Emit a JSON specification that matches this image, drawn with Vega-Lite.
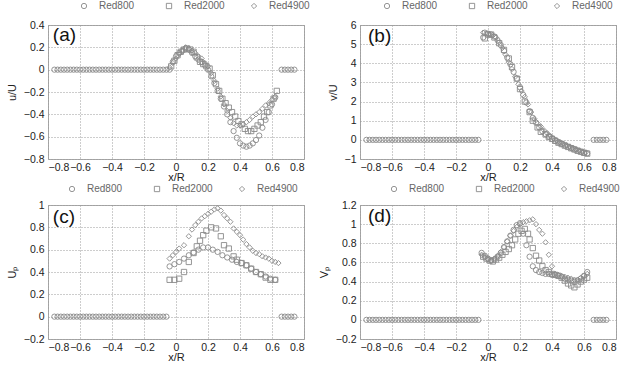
{
"$schema":"https://vega.github.io/schema/vega-lite/v6.json",
"padding":{"left":5,"top":0,"right":5,"bottom":0},
"background":"white",
"datasets":{"pts":[
{"p":"a","s":"Red800","x":-0.76,"y":0},{"p":"a","s":"Red800","x":-0.74,"y":0},{"p":"a","s":"Red800","x":-0.72,"y":0},{"p":"a","s":"Red800","x":-0.70,"y":0},{"p":"a","s":"Red800","x":-0.68,"y":0},{"p":"a","s":"Red800","x":-0.66,"y":0},{"p":"a","s":"Red800","x":-0.64,"y":0},{"p":"a","s":"Red800","x":-0.62,"y":0},{"p":"a","s":"Red800","x":-0.60,"y":0},{"p":"a","s":"Red800","x":-0.58,"y":0},{"p":"a","s":"Red800","x":-0.56,"y":0},{"p":"a","s":"Red800","x":-0.54,"y":0},{"p":"a","s":"Red800","x":-0.52,"y":0},{"p":"a","s":"Red800","x":-0.50,"y":0},{"p":"a","s":"Red800","x":-0.48,"y":0},{"p":"a","s":"Red800","x":-0.46,"y":0},{"p":"a","s":"Red800","x":-0.44,"y":0},{"p":"a","s":"Red800","x":-0.42,"y":0},{"p":"a","s":"Red800","x":-0.40,"y":0},{"p":"a","s":"Red800","x":-0.38,"y":0},{"p":"a","s":"Red800","x":-0.36,"y":0},{"p":"a","s":"Red800","x":-0.34,"y":0},{"p":"a","s":"Red800","x":-0.32,"y":0},{"p":"a","s":"Red800","x":-0.30,"y":0},{"p":"a","s":"Red800","x":-0.28,"y":0},{"p":"a","s":"Red800","x":-0.26,"y":0},{"p":"a","s":"Red800","x":-0.24,"y":0},{"p":"a","s":"Red800","x":-0.22,"y":0},{"p":"a","s":"Red800","x":-0.20,"y":0},{"p":"a","s":"Red800","x":-0.18,"y":0},{"p":"a","s":"Red800","x":-0.16,"y":0},{"p":"a","s":"Red800","x":-0.14,"y":0},{"p":"a","s":"Red800","x":-0.12,"y":0},{"p":"a","s":"Red800","x":-0.10,"y":0},{"p":"a","s":"Red800","x":-0.08,"y":0},{"p":"a","s":"Red800","x":-0.06,"y":0},{"p":"a","s":"Red800","x":0.66,"y":0},{"p":"a","s":"Red800","x":0.68,"y":0},{"p":"a","s":"Red800","x":0.70,"y":0},{"p":"a","s":"Red800","x":0.72,"y":0},{"p":"a","s":"Red800","x":0.74,"y":0},
{"p":"a","s":"Red800","x":-0.04,"y":0},{"p":"a","s":"Red800","x":-0.02,"y":0.07},{"p":"a","s":"Red800","x":0,"y":0.12},{"p":"a","s":"Red800","x":0.02,"y":0.15},{"p":"a","s":"Red800","x":0.04,"y":0.17},{"p":"a","s":"Red800","x":0.06,"y":0.19},{"p":"a","s":"Red800","x":0.08,"y":0.18},{"p":"a","s":"Red800","x":0.10,"y":0.15},{"p":"a","s":"Red800","x":0.12,"y":0.12},{"p":"a","s":"Red800","x":0.14,"y":0.09},{"p":"a","s":"Red800","x":0.16,"y":0.07},{"p":"a","s":"Red800","x":0.18,"y":0.04},{"p":"a","s":"Red800","x":0.20,"y":0.0},{"p":"a","s":"Red800","x":0.22,"y":-0.06},{"p":"a","s":"Red800","x":0.24,"y":-0.12},{"p":"a","s":"Red800","x":0.26,"y":-0.19},{"p":"a","s":"Red800","x":0.28,"y":-0.26},{"p":"a","s":"Red800","x":0.30,"y":-0.33},{"p":"a","s":"Red800","x":0.32,"y":-0.40},{"p":"a","s":"Red800","x":0.34,"y":-0.47},{"p":"a","s":"Red800","x":0.36,"y":-0.55},{"p":"a","s":"Red800","x":0.38,"y":-0.61},{"p":"a","s":"Red800","x":0.40,"y":-0.66},{"p":"a","s":"Red800","x":0.42,"y":-0.68},{"p":"a","s":"Red800","x":0.44,"y":-0.69},{"p":"a","s":"Red800","x":0.46,"y":-0.68},{"p":"a","s":"Red800","x":0.48,"y":-0.66},{"p":"a","s":"Red800","x":0.50,"y":-0.63},{"p":"a","s":"Red800","x":0.52,"y":-0.59},{"p":"a","s":"Red800","x":0.54,"y":-0.52},{"p":"a","s":"Red800","x":0.56,"y":-0.45},{"p":"a","s":"Red800","x":0.58,"y":-0.38},{"p":"a","s":"Red800","x":0.60,"y":-0.31},{"p":"a","s":"Red800","x":0.62,"y":-0.25},
{"p":"a","s":"Red2000","x":-0.03,"y":0.03},{"p":"a","s":"Red2000","x":-0.01,"y":0.08},{"p":"a","s":"Red2000","x":0.01,"y":0.13},{"p":"a","s":"Red2000","x":0.03,"y":0.16},{"p":"a","s":"Red2000","x":0.05,"y":0.18},{"p":"a","s":"Red2000","x":0.07,"y":0.19},{"p":"a","s":"Red2000","x":0.09,"y":0.18},{"p":"a","s":"Red2000","x":0.11,"y":0.16},{"p":"a","s":"Red2000","x":0.13,"y":0.11},{"p":"a","s":"Red2000","x":0.15,"y":0.07},{"p":"a","s":"Red2000","x":0.17,"y":0.05},{"p":"a","s":"Red2000","x":0.19,"y":0.03},{"p":"a","s":"Red2000","x":0.21,"y":0.01},{"p":"a","s":"Red2000","x":0.23,"y":-0.05},{"p":"a","s":"Red2000","x":0.25,"y":-0.13},{"p":"a","s":"Red2000","x":0.27,"y":-0.19},{"p":"a","s":"Red2000","x":0.29,"y":-0.26},{"p":"a","s":"Red2000","x":0.31,"y":-0.30},{"p":"a","s":"Red2000","x":0.33,"y":-0.34},{"p":"a","s":"Red2000","x":0.35,"y":-0.38},{"p":"a","s":"Red2000","x":0.37,"y":-0.42},{"p":"a","s":"Red2000","x":0.39,"y":-0.46},{"p":"a","s":"Red2000","x":0.41,"y":-0.49},{"p":"a","s":"Red2000","x":0.43,"y":-0.53},{"p":"a","s":"Red2000","x":0.45,"y":-0.55},{"p":"a","s":"Red2000","x":0.47,"y":-0.55},{"p":"a","s":"Red2000","x":0.49,"y":-0.53},{"p":"a","s":"Red2000","x":0.51,"y":-0.50},{"p":"a","s":"Red2000","x":0.53,"y":-0.47},{"p":"a","s":"Red2000","x":0.55,"y":-0.42},{"p":"a","s":"Red2000","x":0.57,"y":-0.38},{"p":"a","s":"Red2000","x":0.59,"y":-0.32},{"p":"a","s":"Red2000","x":0.61,"y":-0.26},{"p":"a","s":"Red2000","x":0.63,"y":-0.19},
{"p":"a","s":"Red4900","x":-0.04,"y":0.02},{"p":"a","s":"Red4900","x":-0.02,"y":0.06},{"p":"a","s":"Red4900","x":0,"y":0.10},{"p":"a","s":"Red4900","x":0.02,"y":0.14},{"p":"a","s":"Red4900","x":0.04,"y":0.17},{"p":"a","s":"Red4900","x":0.06,"y":0.20},{"p":"a","s":"Red4900","x":0.08,"y":0.19},{"p":"a","s":"Red4900","x":0.10,"y":0.17},{"p":"a","s":"Red4900","x":0.12,"y":0.15},{"p":"a","s":"Red4900","x":0.14,"y":0.12},{"p":"a","s":"Red4900","x":0.16,"y":0.10},{"p":"a","s":"Red4900","x":0.18,"y":0.06},{"p":"a","s":"Red4900","x":0.20,"y":0.03},{"p":"a","s":"Red4900","x":0.22,"y":-0.03},{"p":"a","s":"Red4900","x":0.24,"y":-0.10},{"p":"a","s":"Red4900","x":0.26,"y":-0.17},{"p":"a","s":"Red4900","x":0.28,"y":-0.24},{"p":"a","s":"Red4900","x":0.30,"y":-0.31},{"p":"a","s":"Red4900","x":0.32,"y":-0.37},{"p":"a","s":"Red4900","x":0.34,"y":-0.43},{"p":"a","s":"Red4900","x":0.36,"y":-0.48},{"p":"a","s":"Red4900","x":0.38,"y":-0.50},{"p":"a","s":"Red4900","x":0.40,"y":-0.50},{"p":"a","s":"Red4900","x":0.42,"y":-0.49},{"p":"a","s":"Red4900","x":0.44,"y":-0.47},{"p":"a","s":"Red4900","x":0.46,"y":-0.45},{"p":"a","s":"Red4900","x":0.48,"y":-0.42},{"p":"a","s":"Red4900","x":0.50,"y":-0.40},{"p":"a","s":"Red4900","x":0.52,"y":-0.38},{"p":"a","s":"Red4900","x":0.54,"y":-0.35},{"p":"a","s":"Red4900","x":0.56,"y":-0.32},{"p":"a","s":"Red4900","x":0.58,"y":-0.30},{"p":"a","s":"Red4900","x":0.60,"y":-0.27},{"p":"a","s":"Red4900","x":0.62,"y":-0.24},
{"p":"b","s":"Red800","x":-0.76,"y":0},{"p":"b","s":"Red800","x":-0.74,"y":0},{"p":"b","s":"Red800","x":-0.72,"y":0},{"p":"b","s":"Red800","x":-0.70,"y":0},{"p":"b","s":"Red800","x":-0.68,"y":0},{"p":"b","s":"Red800","x":-0.66,"y":0},{"p":"b","s":"Red800","x":-0.64,"y":0},{"p":"b","s":"Red800","x":-0.62,"y":0},{"p":"b","s":"Red800","x":-0.60,"y":0},{"p":"b","s":"Red800","x":-0.58,"y":0},{"p":"b","s":"Red800","x":-0.56,"y":0},{"p":"b","s":"Red800","x":-0.54,"y":0},{"p":"b","s":"Red800","x":-0.52,"y":0},{"p":"b","s":"Red800","x":-0.50,"y":0},{"p":"b","s":"Red800","x":-0.48,"y":0},{"p":"b","s":"Red800","x":-0.46,"y":0},{"p":"b","s":"Red800","x":-0.44,"y":0},{"p":"b","s":"Red800","x":-0.42,"y":0},{"p":"b","s":"Red800","x":-0.40,"y":0},{"p":"b","s":"Red800","x":-0.38,"y":0},{"p":"b","s":"Red800","x":-0.36,"y":0},{"p":"b","s":"Red800","x":-0.34,"y":0},{"p":"b","s":"Red800","x":-0.32,"y":0},{"p":"b","s":"Red800","x":-0.30,"y":0},{"p":"b","s":"Red800","x":-0.28,"y":0},{"p":"b","s":"Red800","x":-0.26,"y":0},{"p":"b","s":"Red800","x":-0.24,"y":0},{"p":"b","s":"Red800","x":-0.22,"y":0},{"p":"b","s":"Red800","x":-0.20,"y":0},{"p":"b","s":"Red800","x":-0.18,"y":0},{"p":"b","s":"Red800","x":-0.16,"y":0},{"p":"b","s":"Red800","x":-0.14,"y":0},{"p":"b","s":"Red800","x":-0.12,"y":0},{"p":"b","s":"Red800","x":-0.10,"y":0},{"p":"b","s":"Red800","x":-0.08,"y":0},{"p":"b","s":"Red800","x":-0.06,"y":0},{"p":"b","s":"Red800","x":0.66,"y":0},{"p":"b","s":"Red800","x":0.68,"y":0},{"p":"b","s":"Red800","x":0.70,"y":0},{"p":"b","s":"Red800","x":0.72,"y":0},{"p":"b","s":"Red800","x":0.74,"y":0},
{"p":"b","s":"Red800","x":-0.03,"y":5.35},{"p":"b","s":"Red800","x":-0.02,"y":5.6},{"p":"b","s":"Red800","x":0,"y":5.55},{"p":"b","s":"Red800","x":0.02,"y":5.5},{"p":"b","s":"Red800","x":0.04,"y":5.4},{"p":"b","s":"Red800","x":0.06,"y":5.2},{"p":"b","s":"Red800","x":0.08,"y":4.95},{"p":"b","s":"Red800","x":0.10,"y":4.65},{"p":"b","s":"Red800","x":0.12,"y":4.3},{"p":"b","s":"Red800","x":0.14,"y":3.95},{"p":"b","s":"Red800","x":0.16,"y":3.55},{"p":"b","s":"Red800","x":0.18,"y":3.2},{"p":"b","s":"Red800","x":0.20,"y":2.75},{"p":"b","s":"Red800","x":0.22,"y":2.35},{"p":"b","s":"Red800","x":0.24,"y":1.95},{"p":"b","s":"Red800","x":0.26,"y":1.5},{"p":"b","s":"Red800","x":0.28,"y":1.15},{"p":"b","s":"Red800","x":0.30,"y":0.9},{"p":"b","s":"Red800","x":0.32,"y":0.65},{"p":"b","s":"Red800","x":0.34,"y":0.45},{"p":"b","s":"Red800","x":0.36,"y":0.3},{"p":"b","s":"Red800","x":0.38,"y":0.17},{"p":"b","s":"Red800","x":0.40,"y":0.05},{"p":"b","s":"Red800","x":0.42,"y":-0.05},{"p":"b","s":"Red800","x":0.44,"y":-0.13},{"p":"b","s":"Red800","x":0.46,"y":-0.21},{"p":"b","s":"Red800","x":0.48,"y":-0.29},{"p":"b","s":"Red800","x":0.50,"y":-0.36},{"p":"b","s":"Red800","x":0.52,"y":-0.43},{"p":"b","s":"Red800","x":0.54,"y":-0.5},{"p":"b","s":"Red800","x":0.56,"y":-0.56},{"p":"b","s":"Red800","x":0.58,"y":-0.62},{"p":"b","s":"Red800","x":0.60,"y":-0.67},{"p":"b","s":"Red800","x":0.62,"y":-0.7},
{"p":"b","s":"Red2000","x":-0.02,"y":5.3},{"p":"b","s":"Red2000","x":0.0,"y":5.5},{"p":"b","s":"Red2000","x":0.02,"y":5.5},{"p":"b","s":"Red2000","x":0.04,"y":5.35},{"p":"b","s":"Red2000","x":0.07,"y":5.05},{"p":"b","s":"Red2000","x":0.10,"y":4.7},{"p":"b","s":"Red2000","x":0.13,"y":4.25},{"p":"b","s":"Red2000","x":0.15,"y":3.8},{"p":"b","s":"Red2000","x":0.18,"y":3.2},{"p":"b","s":"Red2000","x":0.20,"y":2.65},{"p":"b","s":"Red2000","x":0.23,"y":2.0},{"p":"b","s":"Red2000","x":0.26,"y":1.45},{"p":"b","s":"Red2000","x":0.28,"y":1.0},{"p":"b","s":"Red2000","x":0.31,"y":0.65},{"p":"b","s":"Red2000","x":0.33,"y":0.42},{"p":"b","s":"Red2000","x":0.36,"y":0.28},{"p":"b","s":"Red2000","x":0.38,"y":0.15},{"p":"b","s":"Red2000","x":0.40,"y":0.05},{"p":"b","s":"Red2000","x":0.42,"y":-0.05},{"p":"b","s":"Red2000","x":0.44,"y":-0.15},{"p":"b","s":"Red2000","x":0.46,"y":-0.22},{"p":"b","s":"Red2000","x":0.48,"y":-0.3},{"p":"b","s":"Red2000","x":0.50,"y":-0.37},{"p":"b","s":"Red2000","x":0.52,"y":-0.44},{"p":"b","s":"Red2000","x":0.54,"y":-0.5},{"p":"b","s":"Red2000","x":0.56,"y":-0.57},{"p":"b","s":"Red2000","x":0.58,"y":-0.62},{"p":"b","s":"Red2000","x":0.60,"y":-0.68},{"p":"b","s":"Red2000","x":0.62,"y":-0.72},
{"p":"b","s":"Red4900","x":-0.03,"y":5.6},{"p":"b","s":"Red4900","x":-0.01,"y":5.55},{"p":"b","s":"Red4900","x":0.01,"y":5.5},{"p":"b","s":"Red4900","x":0.03,"y":5.45},{"p":"b","s":"Red4900","x":0.05,"y":5.35},{"p":"b","s":"Red4900","x":0.07,"y":5.1},{"p":"b","s":"Red4900","x":0.09,"y":4.8},{"p":"b","s":"Red4900","x":0.11,"y":4.45},{"p":"b","s":"Red4900","x":0.13,"y":4.05},{"p":"b","s":"Red4900","x":0.15,"y":3.7},{"p":"b","s":"Red4900","x":0.17,"y":3.3},{"p":"b","s":"Red4900","x":0.19,"y":2.9},{"p":"b","s":"Red4900","x":0.21,"y":2.55},{"p":"b","s":"Red4900","x":0.23,"y":2.25},{"p":"b","s":"Red4900","x":0.25,"y":1.85},{"p":"b","s":"Red4900","x":0.27,"y":1.45},{"p":"b","s":"Red4900","x":0.29,"y":1.1},{"p":"b","s":"Red4900","x":0.31,"y":0.85},{"p":"b","s":"Red4900","x":0.33,"y":0.7},{"p":"b","s":"Red4900","x":0.35,"y":0.5},{"p":"b","s":"Red4900","x":0.37,"y":0.35},{"p":"b","s":"Red4900","x":0.39,"y":0.2},{"p":"b","s":"Red4900","x":0.41,"y":0.08},{"p":"b","s":"Red4900","x":0.43,"y":-0.02},{"p":"b","s":"Red4900","x":0.45,"y":-0.12},{"p":"b","s":"Red4900","x":0.47,"y":-0.2},{"p":"b","s":"Red4900","x":0.49,"y":-0.28},{"p":"b","s":"Red4900","x":0.51,"y":-0.35},{"p":"b","s":"Red4900","x":0.53,"y":-0.42},{"p":"b","s":"Red4900","x":0.55,"y":-0.5},{"p":"b","s":"Red4900","x":0.57,"y":-0.56},{"p":"b","s":"Red4900","x":0.59,"y":-0.62},{"p":"b","s":"Red4900","x":0.61,"y":-0.66},
{"p":"c","s":"Red800","x":-0.76,"y":0},{"p":"c","s":"Red800","x":-0.74,"y":0},{"p":"c","s":"Red800","x":-0.72,"y":0},{"p":"c","s":"Red800","x":-0.70,"y":0},{"p":"c","s":"Red800","x":-0.68,"y":0},{"p":"c","s":"Red800","x":-0.66,"y":0},{"p":"c","s":"Red800","x":-0.64,"y":0},{"p":"c","s":"Red800","x":-0.62,"y":0},{"p":"c","s":"Red800","x":-0.60,"y":0},{"p":"c","s":"Red800","x":-0.58,"y":0},{"p":"c","s":"Red800","x":-0.56,"y":0},{"p":"c","s":"Red800","x":-0.54,"y":0},{"p":"c","s":"Red800","x":-0.52,"y":0},{"p":"c","s":"Red800","x":-0.50,"y":0},{"p":"c","s":"Red800","x":-0.48,"y":0},{"p":"c","s":"Red800","x":-0.46,"y":0},{"p":"c","s":"Red800","x":-0.44,"y":0},{"p":"c","s":"Red800","x":-0.42,"y":0},{"p":"c","s":"Red800","x":-0.40,"y":0},{"p":"c","s":"Red800","x":-0.38,"y":0},{"p":"c","s":"Red800","x":-0.36,"y":0},{"p":"c","s":"Red800","x":-0.34,"y":0},{"p":"c","s":"Red800","x":-0.32,"y":0},{"p":"c","s":"Red800","x":-0.30,"y":0},{"p":"c","s":"Red800","x":-0.28,"y":0},{"p":"c","s":"Red800","x":-0.26,"y":0},{"p":"c","s":"Red800","x":-0.24,"y":0},{"p":"c","s":"Red800","x":-0.22,"y":0},{"p":"c","s":"Red800","x":-0.20,"y":0},{"p":"c","s":"Red800","x":-0.18,"y":0},{"p":"c","s":"Red800","x":-0.16,"y":0},{"p":"c","s":"Red800","x":-0.14,"y":0},{"p":"c","s":"Red800","x":-0.12,"y":0},{"p":"c","s":"Red800","x":-0.10,"y":0},{"p":"c","s":"Red800","x":-0.08,"y":0},{"p":"c","s":"Red800","x":-0.06,"y":0},{"p":"c","s":"Red800","x":0.66,"y":0},{"p":"c","s":"Red800","x":0.68,"y":0},{"p":"c","s":"Red800","x":0.70,"y":0},{"p":"c","s":"Red800","x":0.72,"y":0},{"p":"c","s":"Red800","x":0.74,"y":0},
{"p":"c","s":"Red800","x":-0.04,"y":0.45},{"p":"c","s":"Red800","x":-0.01,"y":0.47},{"p":"c","s":"Red800","x":0.02,"y":0.49},{"p":"c","s":"Red800","x":0.05,"y":0.52},{"p":"c","s":"Red800","x":0.08,"y":0.55},{"p":"c","s":"Red800","x":0.11,"y":0.575},{"p":"c","s":"Red800","x":0.14,"y":0.6},{"p":"c","s":"Red800","x":0.17,"y":0.62},{"p":"c","s":"Red800","x":0.20,"y":0.62},{"p":"c","s":"Red800","x":0.23,"y":0.6},{"p":"c","s":"Red800","x":0.26,"y":0.58},{"p":"c","s":"Red800","x":0.29,"y":0.55},{"p":"c","s":"Red800","x":0.32,"y":0.53},{"p":"c","s":"Red800","x":0.35,"y":0.51},{"p":"c","s":"Red800","x":0.38,"y":0.49},{"p":"c","s":"Red800","x":0.41,"y":0.48},{"p":"c","s":"Red800","x":0.44,"y":0.46},{"p":"c","s":"Red800","x":0.47,"y":0.43},{"p":"c","s":"Red800","x":0.50,"y":0.4},{"p":"c","s":"Red800","x":0.53,"y":0.38},{"p":"c","s":"Red800","x":0.56,"y":0.36},{"p":"c","s":"Red800","x":0.59,"y":0.34},{"p":"c","s":"Red800","x":0.62,"y":0.33},
{"p":"c","s":"Red2000","x":-0.04,"y":0.33},{"p":"c","s":"Red2000","x":-0.01,"y":0.33},{"p":"c","s":"Red2000","x":0.02,"y":0.34},{"p":"c","s":"Red2000","x":0.05,"y":0.4},{"p":"c","s":"Red2000","x":0.08,"y":0.49},{"p":"c","s":"Red2000","x":0.11,"y":0.57},{"p":"c","s":"Red2000","x":0.13,"y":0.63},{"p":"c","s":"Red2000","x":0.15,"y":0.68},{"p":"c","s":"Red2000","x":0.17,"y":0.73},{"p":"c","s":"Red2000","x":0.19,"y":0.77},{"p":"c","s":"Red2000","x":0.22,"y":0.8},{"p":"c","s":"Red2000","x":0.25,"y":0.79},{"p":"c","s":"Red2000","x":0.28,"y":0.72},{"p":"c","s":"Red2000","x":0.30,"y":0.64},{"p":"c","s":"Red2000","x":0.33,"y":0.61},{"p":"c","s":"Red2000","x":0.36,"y":0.54},{"p":"c","s":"Red2000","x":0.38,"y":0.51},{"p":"c","s":"Red2000","x":0.41,"y":0.48},{"p":"c","s":"Red2000","x":0.44,"y":0.46},{"p":"c","s":"Red2000","x":0.47,"y":0.43},{"p":"c","s":"Red2000","x":0.50,"y":0.4},{"p":"c","s":"Red2000","x":0.53,"y":0.38},{"p":"c","s":"Red2000","x":0.56,"y":0.35},{"p":"c","s":"Red2000","x":0.59,"y":0.33},{"p":"c","s":"Red2000","x":0.62,"y":0.33},
{"p":"c","s":"Red4900","x":-0.04,"y":0.52},{"p":"c","s":"Red4900","x":-0.02,"y":0.55},{"p":"c","s":"Red4900","x":0,"y":0.58},{"p":"c","s":"Red4900","x":0.02,"y":0.61},{"p":"c","s":"Red4900","x":0.05,"y":0.64},{"p":"c","s":"Red4900","x":0.08,"y":0.72},{"p":"c","s":"Red4900","x":0.10,"y":0.78},{"p":"c","s":"Red4900","x":0.12,"y":0.82},{"p":"c","s":"Red4900","x":0.14,"y":0.85},{"p":"c","s":"Red4900","x":0.16,"y":0.88},{"p":"c","s":"Red4900","x":0.18,"y":0.9},{"p":"c","s":"Red4900","x":0.20,"y":0.92},{"p":"c","s":"Red4900","x":0.22,"y":0.94},{"p":"c","s":"Red4900","x":0.24,"y":0.96},{"p":"c","s":"Red4900","x":0.26,"y":0.97},{"p":"c","s":"Red4900","x":0.28,"y":0.95},{"p":"c","s":"Red4900","x":0.30,"y":0.91},{"p":"c","s":"Red4900","x":0.32,"y":0.88},{"p":"c","s":"Red4900","x":0.34,"y":0.85},{"p":"c","s":"Red4900","x":0.36,"y":0.79},{"p":"c","s":"Red4900","x":0.38,"y":0.76},{"p":"c","s":"Red4900","x":0.40,"y":0.73},{"p":"c","s":"Red4900","x":0.42,"y":0.69},{"p":"c","s":"Red4900","x":0.44,"y":0.65},{"p":"c","s":"Red4900","x":0.46,"y":0.62},{"p":"c","s":"Red4900","x":0.48,"y":0.59},{"p":"c","s":"Red4900","x":0.50,"y":0.57},{"p":"c","s":"Red4900","x":0.52,"y":0.56},{"p":"c","s":"Red4900","x":0.54,"y":0.54},{"p":"c","s":"Red4900","x":0.56,"y":0.53},{"p":"c","s":"Red4900","x":0.58,"y":0.52},{"p":"c","s":"Red4900","x":0.60,"y":0.5},{"p":"c","s":"Red4900","x":0.62,"y":0.49},{"p":"c","s":"Red4900","x":0.64,"y":0.48},
{"p":"d","s":"Red800","x":-0.76,"y":0},{"p":"d","s":"Red800","x":-0.74,"y":0},{"p":"d","s":"Red800","x":-0.72,"y":0},{"p":"d","s":"Red800","x":-0.70,"y":0},{"p":"d","s":"Red800","x":-0.68,"y":0},{"p":"d","s":"Red800","x":-0.66,"y":0},{"p":"d","s":"Red800","x":-0.64,"y":0},{"p":"d","s":"Red800","x":-0.62,"y":0},{"p":"d","s":"Red800","x":-0.60,"y":0},{"p":"d","s":"Red800","x":-0.58,"y":0},{"p":"d","s":"Red800","x":-0.56,"y":0},{"p":"d","s":"Red800","x":-0.54,"y":0},{"p":"d","s":"Red800","x":-0.52,"y":0},{"p":"d","s":"Red800","x":-0.50,"y":0},{"p":"d","s":"Red800","x":-0.48,"y":0},{"p":"d","s":"Red800","x":-0.46,"y":0},{"p":"d","s":"Red800","x":-0.44,"y":0},{"p":"d","s":"Red800","x":-0.42,"y":0},{"p":"d","s":"Red800","x":-0.40,"y":0},{"p":"d","s":"Red800","x":-0.38,"y":0},{"p":"d","s":"Red800","x":-0.36,"y":0},{"p":"d","s":"Red800","x":-0.34,"y":0},{"p":"d","s":"Red800","x":-0.32,"y":0},{"p":"d","s":"Red800","x":-0.30,"y":0},{"p":"d","s":"Red800","x":-0.28,"y":0},{"p":"d","s":"Red800","x":-0.26,"y":0},{"p":"d","s":"Red800","x":-0.24,"y":0},{"p":"d","s":"Red800","x":-0.22,"y":0},{"p":"d","s":"Red800","x":-0.20,"y":0},{"p":"d","s":"Red800","x":-0.18,"y":0},{"p":"d","s":"Red800","x":-0.16,"y":0},{"p":"d","s":"Red800","x":-0.14,"y":0},{"p":"d","s":"Red800","x":-0.12,"y":0},{"p":"d","s":"Red800","x":-0.10,"y":0},{"p":"d","s":"Red800","x":-0.08,"y":0},{"p":"d","s":"Red800","x":-0.06,"y":0},{"p":"d","s":"Red800","x":0.66,"y":0},{"p":"d","s":"Red800","x":0.68,"y":0},{"p":"d","s":"Red800","x":0.70,"y":0},{"p":"d","s":"Red800","x":0.72,"y":0},{"p":"d","s":"Red800","x":0.74,"y":0},
{"p":"d","s":"Red800","x":-0.04,"y":0.7},{"p":"d","s":"Red800","x":-0.02,"y":0.67},{"p":"d","s":"Red800","x":0,"y":0.64},{"p":"d","s":"Red800","x":0.02,"y":0.62},{"p":"d","s":"Red800","x":0.04,"y":0.63},{"p":"d","s":"Red800","x":0.06,"y":0.66},{"p":"d","s":"Red800","x":0.08,"y":0.7},{"p":"d","s":"Red800","x":0.10,"y":0.76},{"p":"d","s":"Red800","x":0.12,"y":0.82},{"p":"d","s":"Red800","x":0.14,"y":0.88},{"p":"d","s":"Red800","x":0.16,"y":0.94},{"p":"d","s":"Red800","x":0.18,"y":0.99},{"p":"d","s":"Red800","x":0.20,"y":1.01},{"p":"d","s":"Red800","x":0.22,"y":0.9},{"p":"d","s":"Red800","x":0.24,"y":0.78},{"p":"d","s":"Red800","x":0.26,"y":0.66},{"p":"d","s":"Red800","x":0.28,"y":0.56},{"p":"d","s":"Red800","x":0.30,"y":0.52},{"p":"d","s":"Red800","x":0.32,"y":0.5},{"p":"d","s":"Red800","x":0.34,"y":0.49},{"p":"d","s":"Red800","x":0.36,"y":0.48},{"p":"d","s":"Red800","x":0.38,"y":0.48},{"p":"d","s":"Red800","x":0.40,"y":0.47},{"p":"d","s":"Red800","x":0.42,"y":0.47},{"p":"d","s":"Red800","x":0.44,"y":0.46},{"p":"d","s":"Red800","x":0.46,"y":0.45},{"p":"d","s":"Red800","x":0.48,"y":0.43},{"p":"d","s":"Red800","x":0.50,"y":0.42},{"p":"d","s":"Red800","x":0.52,"y":0.41},{"p":"d","s":"Red800","x":0.54,"y":0.4},{"p":"d","s":"Red800","x":0.56,"y":0.41},{"p":"d","s":"Red800","x":0.58,"y":0.43},{"p":"d","s":"Red800","x":0.60,"y":0.46},{"p":"d","s":"Red800","x":0.62,"y":0.5},
{"p":"d","s":"Red2000","x":-0.03,"y":0.66},{"p":"d","s":"Red2000","x":-0.01,"y":0.64},{"p":"d","s":"Red2000","x":0.01,"y":0.62},{"p":"d","s":"Red2000","x":0.03,"y":0.61},{"p":"d","s":"Red2000","x":0.05,"y":0.63},{"p":"d","s":"Red2000","x":0.07,"y":0.65},{"p":"d","s":"Red2000","x":0.09,"y":0.68},{"p":"d","s":"Red2000","x":0.11,"y":0.71},{"p":"d","s":"Red2000","x":0.13,"y":0.74},{"p":"d","s":"Red2000","x":0.15,"y":0.78},{"p":"d","s":"Red2000","x":0.17,"y":0.84},{"p":"d","s":"Red2000","x":0.19,"y":0.9},{"p":"d","s":"Red2000","x":0.21,"y":0.93},{"p":"d","s":"Red2000","x":0.23,"y":0.95},{"p":"d","s":"Red2000","x":0.25,"y":0.9},{"p":"d","s":"Red2000","x":0.26,"y":0.84},{"p":"d","s":"Red2000","x":0.28,"y":0.75},{"p":"d","s":"Red2000","x":0.30,"y":0.67},{"p":"d","s":"Red2000","x":0.32,"y":0.62},{"p":"d","s":"Red2000","x":0.34,"y":0.56},{"p":"d","s":"Red2000","x":0.36,"y":0.52},{"p":"d","s":"Red2000","x":0.38,"y":0.5},{"p":"d","s":"Red2000","x":0.40,"y":0.48},{"p":"d","s":"Red2000","x":0.42,"y":0.47},{"p":"d","s":"Red2000","x":0.44,"y":0.46},{"p":"d","s":"Red2000","x":0.46,"y":0.44},{"p":"d","s":"Red2000","x":0.48,"y":0.41},{"p":"d","s":"Red2000","x":0.50,"y":0.38},{"p":"d","s":"Red2000","x":0.52,"y":0.36},{"p":"d","s":"Red2000","x":0.54,"y":0.34},{"p":"d","s":"Red2000","x":0.56,"y":0.37},{"p":"d","s":"Red2000","x":0.58,"y":0.4},{"p":"d","s":"Red2000","x":0.60,"y":0.42},{"p":"d","s":"Red2000","x":0.62,"y":0.44},
{"p":"d","s":"Red4900","x":-0.04,"y":0.68},{"p":"d","s":"Red4900","x":-0.02,"y":0.65},{"p":"d","s":"Red4900","x":0,"y":0.63},{"p":"d","s":"Red4900","x":0.02,"y":0.62},{"p":"d","s":"Red4900","x":0.04,"y":0.64},{"p":"d","s":"Red4900","x":0.06,"y":0.67},{"p":"d","s":"Red4900","x":0.08,"y":0.71},{"p":"d","s":"Red4900","x":0.10,"y":0.76},{"p":"d","s":"Red4900","x":0.12,"y":0.82},{"p":"d","s":"Red4900","x":0.14,"y":0.88},{"p":"d","s":"Red4900","x":0.16,"y":0.93},{"p":"d","s":"Red4900","x":0.18,"y":0.97},{"p":"d","s":"Red4900","x":0.20,"y":1.0},{"p":"d","s":"Red4900","x":0.22,"y":1.02},{"p":"d","s":"Red4900","x":0.24,"y":1.03},{"p":"d","s":"Red4900","x":0.26,"y":1.04},{"p":"d","s":"Red4900","x":0.28,"y":1.05},{"p":"d","s":"Red4900","x":0.30,"y":1.0},{"p":"d","s":"Red4900","x":0.32,"y":0.94},{"p":"d","s":"Red4900","x":0.34,"y":0.9},{"p":"d","s":"Red4900","x":0.36,"y":0.81},{"p":"d","s":"Red4900","x":0.38,"y":0.68},{"p":"d","s":"Red4900","x":0.40,"y":0.56},{"p":"d","s":"Red4900","x":0.42,"y":0.48},{"p":"d","s":"Red4900","x":0.44,"y":0.47},{"p":"d","s":"Red4900","x":0.46,"y":0.46},{"p":"d","s":"Red4900","x":0.48,"y":0.45},{"p":"d","s":"Red4900","x":0.50,"y":0.44},{"p":"d","s":"Red4900","x":0.52,"y":0.43},{"p":"d","s":"Red4900","x":0.54,"y":0.42},{"p":"d","s":"Red4900","x":0.56,"y":0.42},{"p":"d","s":"Red4900","x":0.58,"y":0.44},{"p":"d","s":"Red4900","x":0.60,"y":0.46},{"p":"d","s":"Red4900","x":0.62,"y":0.48}
],
"labels":[{"p":"a","t":"(a)"},{"p":"b","t":"(b)"},{"p":"c","t":"(c)"},{"p":"d","t":"(d)"}]},
"columns":2,
"spacing":{"row":46,"column":56},
"bounds":"flush",
"resolve":{"scale":{"shape":"independent"},"legend":{"shape":"independent"}},
"concat":[
{"width":256,"height":134,"layer":[
 {"data":{"name":"pts"},"transform":[{"filter":"datum.p==='a'"}],"mark":{"type":"point","filled":false,"size":28,"strokeWidth":0.9,"color":"#8a8a8a","opacity":1},
  "encoding":{"x":{"field":"x","type":"quantitative","scale":{"domain":[-0.8,0.8],"nice":false},"axis":{"values":[-0.8,-0.6,-0.4,-0.2,0,0.2,0.4,0.6,0.8],"format":".1~f","title":"x/R"}},
   "y":{"field":"y","type":"quantitative","scale":{"domain":[-0.8,0.4],"nice":false},"axis":{"values":[-0.8,-0.6,-0.4,-0.2,0,0.2,0.4],"format":".1~f","title":"u/U"}},
   "shape":{"field":"s","type":"nominal","scale":{"domain":["Red800","Red2000","Red4900"],"range":["circle","square","diamond"]},"legend":{"orient":"none","legendX":31,"legendY":-24,"title":null}}}},
 {"data":{"name":"labels"},"transform":[{"filter":"datum.p==='a'"}],"mark":{"type":"text","align":"left","baseline":"middle","fontSize":19,"font":"Liberation Sans","color":"#111"},
  "encoding":{"x":{"datum":-0.77},"y":{"datum":0.31},"text":{"field":"t"}}}
]},
{"width":256,"height":134,"layer":[
 {"data":{"name":"pts"},"transform":[{"filter":"datum.p==='b'"}],"mark":{"type":"point","filled":false,"size":28,"strokeWidth":0.9,"color":"#8a8a8a","opacity":1},
  "encoding":{"x":{"field":"x","type":"quantitative","scale":{"domain":[-0.8,0.8],"nice":false},"axis":{"values":[-0.8,-0.6,-0.4,-0.2,0,0.2,0.4,0.6,0.8],"format":".1~f","title":"x/R"}},
   "y":{"field":"y","type":"quantitative","scale":{"domain":[-1,6],"nice":false},"axis":{"values":[-1,0,1,2,3,4,5,6],"format":"d","title":"v/U"}},
   "shape":{"field":"s","type":"nominal","scale":{"domain":["Red800","Red2000","Red4900"],"range":["circle","square","diamond"]},"legend":{"orient":"none","legendX":22,"legendY":-24,"title":null}}}},
 {"data":{"name":"labels"},"transform":[{"filter":"datum.p==='b'"}],"mark":{"type":"text","align":"left","baseline":"middle","fontSize":19,"font":"Liberation Sans","color":"#111"},
  "encoding":{"x":{"datum":-0.75},"y":{"datum":5.43},"text":{"field":"t"}}}
]},
{"width":256,"height":134,"layer":[
 {"data":{"name":"pts"},"transform":[{"filter":"datum.p==='c'"}],"mark":{"type":"point","filled":false,"size":28,"strokeWidth":0.9,"color":"#8a8a8a","opacity":1},
  "encoding":{"x":{"field":"x","type":"quantitative","scale":{"domain":[-0.8,0.8],"nice":false},"axis":{"values":[-0.8,-0.6,-0.4,-0.2,0,0.2,0.4,0.6,0.8],"format":".1~f","title":"x/R"}},
   "y":{"field":"y","type":"quantitative","scale":{"domain":[-0.2,1],"nice":false},"axis":{"values":[-0.2,0,0.2,0.4,0.6,0.8,1],"format":".1~f","title":"Uₚ"}},
   "shape":{"field":"s","type":"nominal","scale":{"domain":["Red800","Red2000","Red4900"],"range":["circle","square","diamond"]},"legend":{"orient":"none","legendX":19,"legendY":-21,"title":null}}}},
 {"data":{"name":"labels"},"transform":[{"filter":"datum.p==='c'"}],"mark":{"type":"text","align":"left","baseline":"middle","fontSize":19,"font":"Liberation Sans","color":"#111"},
  "encoding":{"x":{"datum":-0.77},"y":{"datum":0.89},"text":{"field":"t"}}}
]},
{"width":256,"height":134,"layer":[
 {"data":{"name":"pts"},"transform":[{"filter":"datum.p==='d'"}],"mark":{"type":"point","filled":false,"size":28,"strokeWidth":0.9,"color":"#8a8a8a","opacity":1},
  "encoding":{"x":{"field":"x","type":"quantitative","scale":{"domain":[-0.8,0.8],"nice":false},"axis":{"values":[-0.8,-0.6,-0.4,-0.2,0,0.2,0.4,0.6,0.8],"format":".1~f","title":"x/R"}},
   "y":{"field":"y","type":"quantitative","scale":{"domain":[-0.2,1.2],"nice":false},"axis":{"values":[-0.2,0,0.2,0.4,0.6,0.8,1,1.2],"format":".1~f","title":"Vₚ"}},
   "shape":{"field":"s","type":"nominal","scale":{"domain":["Red800","Red2000","Red4900"],"range":["circle","square","diamond"]},"legend":{"orient":"none","legendX":29,"legendY":-21,"title":null}}}},
 {"data":{"name":"labels"},"transform":[{"filter":"datum.p==='d'"}],"mark":{"type":"text","align":"left","baseline":"middle","fontSize":19,"font":"Liberation Sans","color":"#111"},
  "encoding":{"x":{"datum":-0.75},"y":{"datum":1.09},"text":{"field":"t"}}}
]}
],
"config":{
 "font":"Liberation Sans",
 "view":{"stroke":"#a8a8a8","strokeWidth":1},
 "axis":{"grid":true,"tickCount":30,"gridDash":[1,2],"gridColor":"#9a9a9a","gridWidth":1,"domain":false,"ticks":false,"labelOverlap":false,"labelBound":false,"labelFont":"Liberation Sans","labelFontSize":10.5,"labelColor":"#222","labelPadding":4,"titleFont":"Liberation Sans","titleFontSize":11,"titleFontWeight":"normal","titleColor":"#222","titlePadding":6},
 "axisX":{"labelPadding":3,"titlePadding":-1},
 "legend":{"direction":"horizontal","gridAlign":"all","columnPadding":24,"labelOffset":10,"labelFont":"Liberation Sans","labelFontSize":10,"labelColor":"#666","padding":0,"symbolStrokeWidth":0.9,"symbolSize":28,"symbolStrokeColor":"#8a8a8a"}
}
}
